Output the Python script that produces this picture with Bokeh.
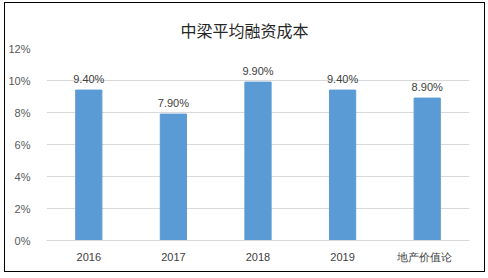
from bokeh.plotting import figure
from bokeh.models import ColumnDataSource, FixedTicker, PrintfTickFormatter, Range1d, CustomJSTickFormatter
from bokeh.embed import file_html
from bokeh.resources import INLINE

years = ["2016", "2017", "2018", "2019", "2020"]
cost = [9.40, 7.90, 9.90, 9.40, 8.90]
labels = ["9.40%", "7.90%", "9.90%", "9.40%", "8.90%"]
yticks = [0, 2, 4, 6, 8, 10, 12]
title_text = "中梁平均融资成本"
watermark = "地产价值论"

src = ColumnDataSource(dict(x=years, top=cost, lab=labels))

# canvas is offset by (5, 3) inside the page; border drawn as CSS outline
OX, OY = 5, 3
FL, FB = 44 - OX, 240 - OY  # frame left / bottom in canvas pixels

p = figure(x_range=years, y_range=Range1d(0, 12), width=479, height=268,
           output_backend="svg", toolbar_location=None,
           min_border_left=FL, min_border_right=479 - (469 - OX),
           min_border_top=48 - OY, min_border_bottom=268 - FB)
p.margin = (OY, 0, 0, OX)
p.styles = {"outline": "1px solid black"}
p.outline_line_color = None
p.background_fill_color = "white"
p.border_fill_color = "white"

p.title.text = title_text
p.title.align = "left"
p.title.vertical_align = "top"
p.title.offset = 134
p.title.standoff = 9
p.title.text_font_size = "16px"
p.title.text_font = "Noto Sans CJK SC"
p.title.text_font_style = "normal"
p.title.text_color = "#262626"

p.vbar(x="x", top="top", width=0.31, source=src, color="#5B9BD5")
p.text(x="x", y="top", text="lab", source=src, text_align="center", text_baseline="bottom",
       y_offset=-5, text_font_size="11px", text_color="#404040", text_font={"value": "Liberation Sans"})

p.yaxis.ticker = FixedTicker(ticks=yticks)
p.yaxis.formatter = PrintfTickFormatter(format="%d%%")
p.yaxis.axis_line_color = None
p.yaxis.major_tick_line_color = None
p.yaxis.minor_tick_line_color = None
p.yaxis.major_label_text_font_size = "11px"
p.yaxis.major_label_text_color = "#595959"
p.yaxis.major_label_text_font = "Liberation Sans"
p.yaxis.major_label_standoff = 10

p.xaxis.axis_line_color = "#D9D9D9"
p.xaxis.major_tick_line_color = None
p.xaxis.minor_tick_line_color = None
p.xaxis.major_label_text_font_size = "11px"
p.xaxis.major_label_text_color = "#404040"
p.xaxis.major_label_text_font = "Liberation Sans"
p.xaxis.major_label_standoff = 4
# the last category label is covered by the source's watermark
p.xaxis.formatter = CustomJSTickFormatter(args=dict(last=years[-1], wm="  " + watermark),
                                          code="return tick == last ? wm : tick;")

p.xgrid.grid_line_color = None
p.ygrid.grid_line_color = "#D9D9D9"

open("out.html", "w").write(file_html(p, INLINE))
